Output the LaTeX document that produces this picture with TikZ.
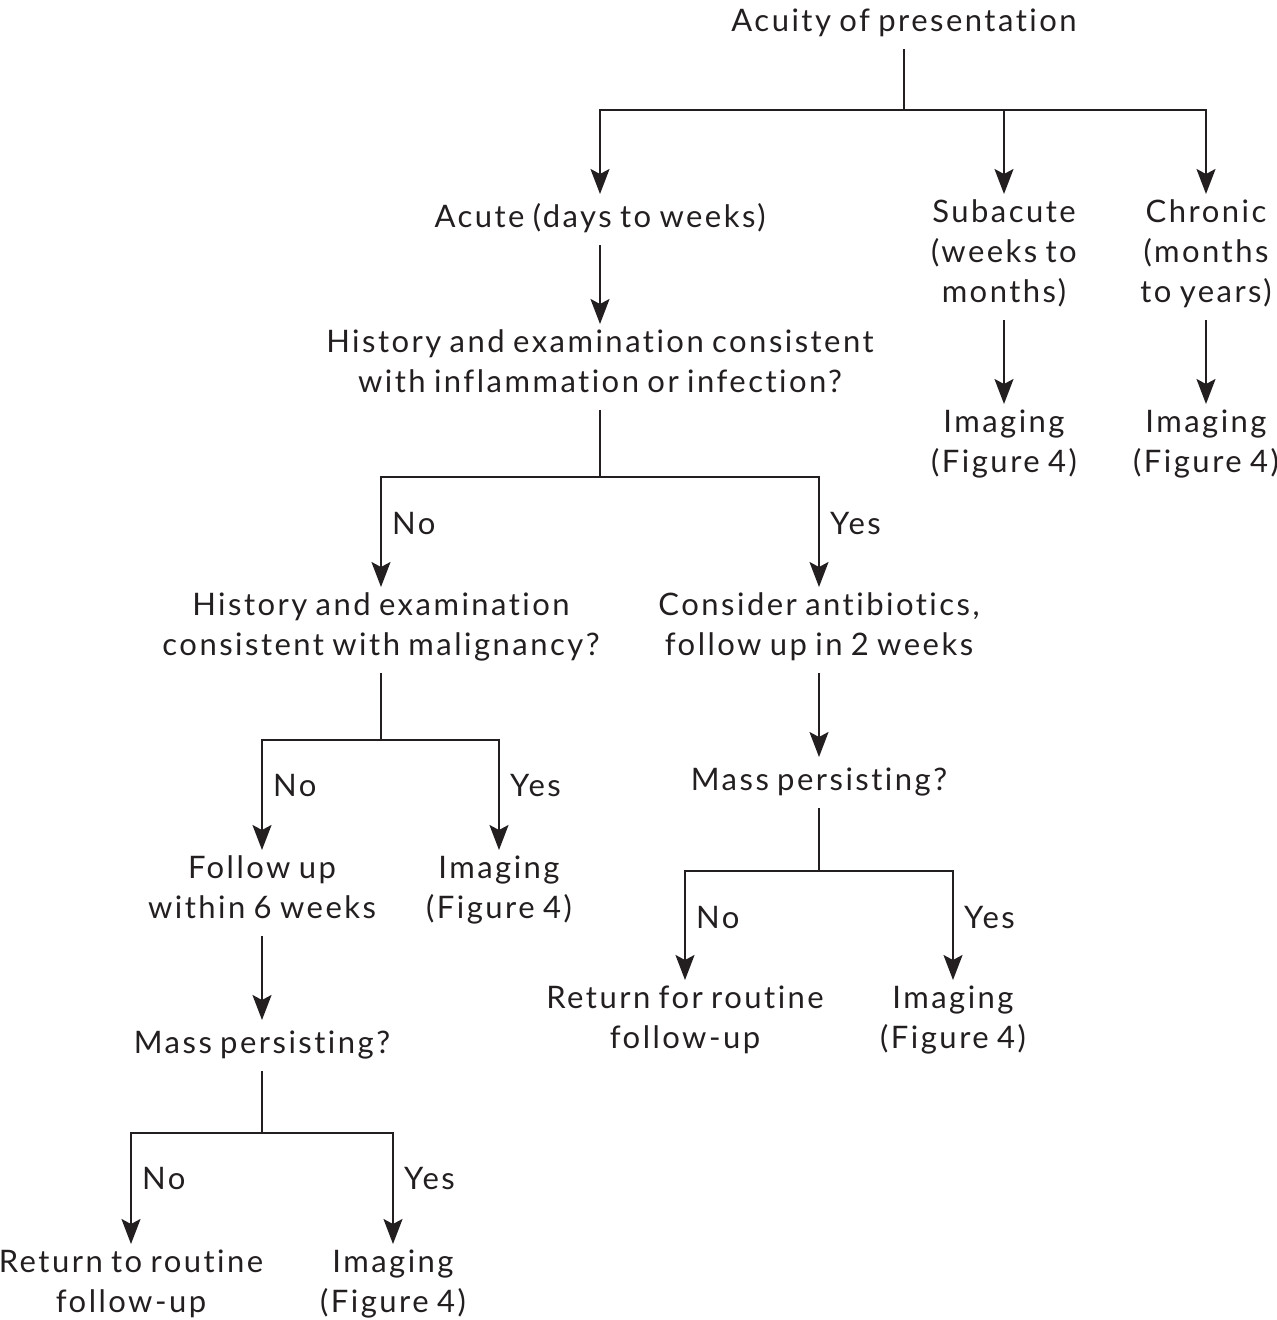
\documentclass[tikz,border=0pt]{standalone}
\usepackage{fontspec}
\setmainfont{Lato}[LetterSpace=8,WordSpace=0.8,Ligatures={NoCommon}]
\usetikzlibrary{arrows.meta}
\definecolor{ink}{HTML}{231F20}
\newcommand\topst{\rule{0pt}{28pt}}
\newcommand\botst{\rule[-12pt]{0pt}{12pt}}
\begin{document}
\begin{tikzpicture}[x=1pt,y=-1pt,
  txt/.style={inner sep=0pt, outer xsep=0pt, outer ysep=5.5pt, align=center, anchor=north,
    text=ink, font=\fontsize{31}{40}\selectfont,
    execute at begin node=\topst, execute at end node=\botst},
  lab/.style={inner sep=0pt, anchor=base west, text=ink, font=\fontsize{31}{40}\selectfont},
  conn/.style={draw=ink, line width=2pt},
  arr/.style={conn, -{Stealth[length=25pt,width=19pt,inset=5pt]}}]
\useasboundingbox (0,0) rectangle (1277,1320);

\node[txt] (title) at (904,-2) {Acuity of presentation};
\node[txt] (acute) at (600,194) {Acute (days to weeks)};
\node[txt] (sub) at (1004,194) {Subacute\\(weeks to\\months)};
\node[txt] (chr) at (1206,194) {Chronic\\(months\\to years)};
\node[txt] (hist1) at (600,324) {History and examination consistent\\with inflammation or infection?};
\node[txt] (imgS) at (1004,404) {Imaging\\(Figure 4)};
\node[txt] (imgC) at (1206,404) {Imaging\\(Figure 4)};
\node[txt] (hist2) at (381,587) {History and examination\\consistent with malignancy?};
\node[txt] (cons) at (819,587) {Consider antibiotics,\\follow up in 2 weeks};
\node[txt] (fol) at (262,850) {Follow up\\within 6 weeks};
\node[txt] (img2) at (499,850) {Imaging\\(Figure 4)};
\node[txt] (massR) at (819,757) {Mass persisting?};
\node[txt] (retR) at (685,980) {Return for routine\\follow-up};
\node[txt] (imgR) at (953,980) {Imaging\\(Figure 4)};
\node[txt] (massL) at (262,1020) {Mass persisting?};
\node[txt] (retL) at (131,1244) {Return to routine\\follow-up};
\node[txt] (imgL) at (393,1244) {Imaging\\(Figure 4)};

\coordinate (j0) at (904,110);
\coordinate (j1) at (600,477);
\coordinate (j2) at (381,740);
\coordinate (j3) at (819,871);
\coordinate (j4) at (262,1133);

\draw[conn] (title.south) -- (j0);
\draw[arr] (j0) -| (acute.north);
\draw[arr] (j0) -| (sub.north);
\draw[arr] (j0) -| (chr.north);
\draw[arr] (acute.south) -- (hist1.north);
\draw[arr] (sub.south) -- (imgS.north);
\draw[arr] (chr.south) -- (imgC.north);
\draw[conn] (hist1.south) -- (j1);
\draw[arr] (j1) -| (hist2.north);
\draw[arr] (j1) -| (cons.north);
\draw[conn] (hist2.south) -- (j2);
\draw[arr] (j2) -| (fol.north);
\draw[arr] (j2) -| (img2.north);
\draw[arr] (cons.south) -- (massR.north);
\draw[conn] (massR.south) -- (j3);
\draw[arr] (j3) -| (retR.north);
\draw[arr] (j3) -| (imgR.north);
\draw[arr] (fol.south) -- (massL.north);
\draw[conn] (massL.south) -- (j4);
\draw[arr] (j4) -| (retL.north);
\draw[arr] (j4) -| (imgL.north);

\node[lab] (n1) at (392,534) {No};
\node[lab] (y1) at (830,534) {Yes};
\node[lab] (n2) at (273,796) {No};
\node[lab] (y2) at (510,796) {Yes};
\node[lab] (n3) at (696,928) {No};
\node[lab] (y3) at (964,928) {Yes};
\node[lab] (n4) at (142,1189) {No};
\node[lab] (y4) at (404,1189) {Yes};
\end{tikzpicture}
\end{document}
